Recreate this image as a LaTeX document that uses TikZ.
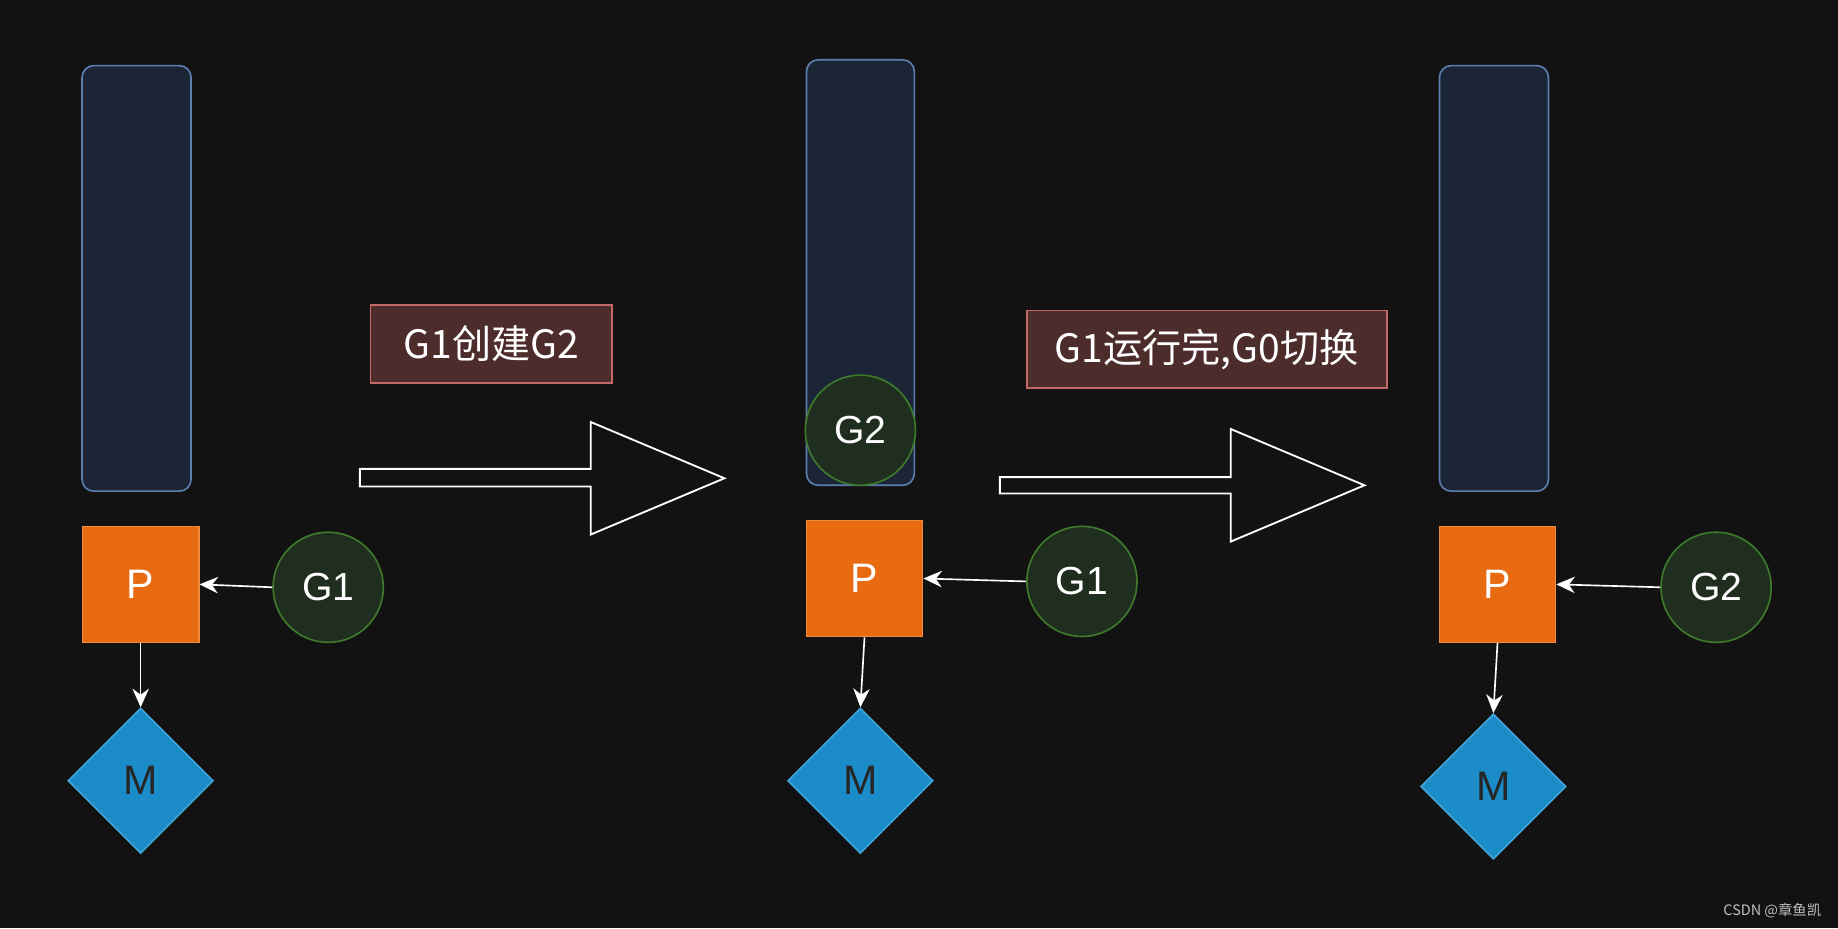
\documentclass[tikz,border=0pt]{standalone}
\usepackage{fontspec}
\setmainfont{Liberation Sans}
\newfontfamily\cjk{Noto Sans CJK SC}
\usetikzlibrary{shapes.geometric,arrows.meta}
\definecolor{bg}{HTML}{121212}
\definecolor{qfill}{HTML}{1C2536}
\definecolor{qline}{HTML}{5C7EAF}
\definecolor{pfill}{HTML}{E86B12}
\definecolor{pline}{HTML}{F08A3C}
\definecolor{gfill}{HTML}{1F2E1E}
\definecolor{gline}{HTML}{3F7A2C}
\definecolor{mfill}{HTML}{1B8CC8}
\definecolor{mline}{HTML}{3FA3D8}
\definecolor{lfill}{HTML}{4D2C2C}
\definecolor{lline}{HTML}{C46868}
\tikzset{
  queue/.style={draw=qline,fill=qfill,rounded corners=0.2cm,line width=0.8pt},
  pbox/.style={draw=pline,fill=pfill,minimum width=1.98cm,minimum height=1.98cm,inner sep=0pt,text=white,font=\fontsize{20}{24}\selectfont,line width=0.8pt},
  gnode/.style={circle,draw=gline,fill=gfill,minimum size=1.88cm,inner sep=0pt,text=white,font=\fontsize{19}{23}\selectfont,line width=0.8pt},
  mnode/.style={diamond,draw=mline,fill=mfill,minimum width=2.48cm,minimum height=2.48cm,inner sep=0pt,text=black!85,font=\fontsize{20}{24}\selectfont,line width=0.8pt},
  lbl/.style={draw=lline,fill=lfill,text=white,inner sep=0pt,font=\cjk\fontsize{19}{23}\selectfont,line width=0.8pt},
  conn/.style={draw=white,line width=0.8pt,-{Stealth[length=9pt,width=8pt]}},
  hollow/.style={draw=white,line width=0.9pt,fill=none}
}
\begin{document}
\begin{tikzpicture}[x=0.02cm,y=-0.02cm]
\fill[bg] (0,0) rectangle (1568,792);
\useasboundingbox (0,0) rectangle (1568,792);
% panel 1
\draw[queue] (70,56) rectangle (163,419);
\node[pbox] (p1) at (120,498.5) {P};
\node[gnode] (g1a) at (280,501) {G1};
\node[mnode] (m1) at (120,666) {M};
\draw[conn] (g1a.west) -- (p1.east);
\draw[conn] (p1.south) -- (m1.north);
\node[lbl,minimum width=4.12cm,minimum height=1.34cm] (l1) at (419,293.5) {G1创建G2};
\draw[hollow] (307,400) -- (504,400) -- (504,360) -- (618,408) -- (504,456) -- (504,415) -- (307,415) -- cycle;
% panel 2
\draw[queue] (688,51) rectangle (780,414);
\node[gnode] (g2a) at (734,367) {G2};
\node[pbox] (p2) at (737.5,493.5) {P};
\node[gnode] (g1b) at (923,496) {G1};
\node[mnode] (m2) at (734,666) {M};
\draw[conn] (g1b.west) -- (p2.east);
\draw[conn] (p2.south) -- (m2.north);
\node[lbl,minimum width=6.14cm,minimum height=1.32cm] (l2) at (1029.5,298) {G1运行完,G0切换};
\draw[hollow] (853,407) -- (1050,407) -- (1050,366) -- (1164,414) -- (1050,462) -- (1050,421) -- (853,421) -- cycle;
% panel 3
\draw[queue] (1228,56) rectangle (1321,419);
\node[pbox] (p3) at (1277.5,498.5) {P};
\node[gnode] (g2b) at (1464,501) {G2};
\node[mnode] (m3) at (1274,671) {M};
\draw[conn] (g2b.west) -- (p3.east);
\draw[conn] (p3.south) -- (m3.north);
\node[text=white!75!black,font=\cjk\fontsize{7}{8}\selectfont,inner sep=0pt] (wm) at (1512,777) {CSDN @章鱼凯};
\end{tikzpicture}
\end{document}
